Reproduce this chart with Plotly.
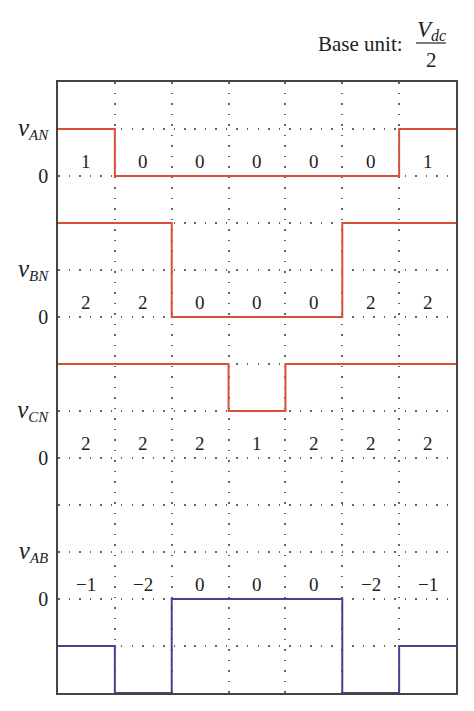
import plotly.graph_objects as go

# ---- data ----
segments = [0, 1, 2, 3, 4, 5, 6, 7]          # interval boundaries
v_AN = [1, 0, 0, 0, 0, 0, 1]
v_BN = [2, 2, 0, 0, 0, 2, 2]
v_CN = [2, 2, 2, 1, 2, 2, 2]
v_AB = [-1, -2, 0, 0, 0, -2, -1]
series_names = ["v_AN", "v_BN", "v_CN", "v_AB"]
series_values = [v_AN, v_BN, v_CN, v_AB]
baselines = [11, 8, 5, 2]                    # vertical offset of each waveform's zero
tick_vals = [12, 11, 9, 8, 6, 5, 3, 2]


def vlab(sub):
    return ('<span style="font-size:25px"><i>v</i></span>'
            '<sub><span style="font-size:15px"><i>%s</i></span></sub>' % sub)


tick_text = [vlab("AN"), "0", vlab("BN"), "0", vlab("CN"), "0", vlab("AB"), "0"]

RED = "#d6503c"
BLUE = "#4b4190"
colors = [RED, RED, RED, BLUE]
SERIF = "Liberation Serif, Times New Roman, serif"

# page body has an 8px default margin; compensate so the plot lands where the reference does
OFF = 8
W, H = 474, 711

fig = go.Figure()
for name, vals, base, col in zip(series_names, series_values, baselines, colors):
    ys = [base + v for v in vals] + [base + vals[-1]]
    fig.add_trace(go.Scatter(x=segments, y=ys, mode="lines", line_shape="hv",
                             line=dict(color=col, width=2), name=name,
                             cliponaxis=False, showlegend=False, hoverinfo="skip"))

annotations = []
for vals, base in zip(series_values, baselines):
    for i, v in enumerate(vals):
        txt = str(v).replace("-", "\u2212")
        annotations.append(dict(x=segments[i] + 0.5, y=base + 0.3, xref="x", yref="y",
                                text=txt, showarrow=False,
                                font=dict(family=SERIF, size=19, color="#222")))


def px(x):
    return (x - 58) / 398


def py(y):
    return (693 - y) / 611


annotations.append(dict(x=px(405), y=py(44), xref="paper", yref="paper", xanchor="right",
                        yanchor="middle", text="Base unit:", showarrow=False,
                        font=dict(family=SERIF, size=21, color="#222")))
annotations.append(dict(x=px(431), y=py(31), xref="paper", yref="paper", xanchor="center",
                        yanchor="middle",
                        text='<span style="font-size:23px"><i>V</i></span><sub><span style="font-size:16px"><i>dc</i></span></sub>',
                        showarrow=False, font=dict(family=SERIF, size=21, color="#222")))
annotations.append(dict(x=px(431), y=py(60), xref="paper", yref="paper", xanchor="center",
                        yanchor="middle", text="2", showarrow=False,
                        font=dict(family=SERIF, size=21, color="#222")))

fig.add_shape(type="line", xref="paper", yref="paper", x0=px(416), x1=px(446),
              y0=py(43), y1=py(43), line=dict(color="#222", width=1.2))

fig.update_layout(
    width=W - OFF, height=H - OFF,
    margin=dict(l=58 - OFF, r=18, t=82 - OFF, b=18, autoexpand=False),
    paper_bgcolor="white", plot_bgcolor="white",
    annotations=annotations,
    xaxis=dict(range=[0, 7], dtick=1, tick0=0, showticklabels=False, ticks="",
               showgrid=True, gridcolor="#666", gridwidth=1.5, griddash="1.5px,9px",
               showline=True, mirror=True, linecolor="#444", linewidth=1.5, zeroline=False,
               fixedrange=True),
    yaxis=dict(range=[0, 13], tickmode="array", tickvals=tick_vals, ticktext=tick_text,
               ticks="", showgrid=False, showline=True, mirror=True, linecolor="#444",
               linewidth=1.5, zeroline=False, ticklabelstandoff=4, automargin=False,
               tickfont=dict(family=SERIF, size=20, color="#222"), fixedrange=True),
)

# dotted horizontal grid at every level via an overlay axis
fig.update_layout(yaxis2=dict(range=[0, 13], dtick=1, tick0=0, overlaying="y",
                              showticklabels=False, ticks="", showgrid=True,
                              gridcolor="#666", gridwidth=1.5, griddash="1.5px,9px",
                              zeroline=False, showline=False, fixedrange=True))
fig.add_trace(go.Scatter(x=[None], y=[None], yaxis="y2", showlegend=False, hoverinfo="skip"))

fig.write_html("out.html")
